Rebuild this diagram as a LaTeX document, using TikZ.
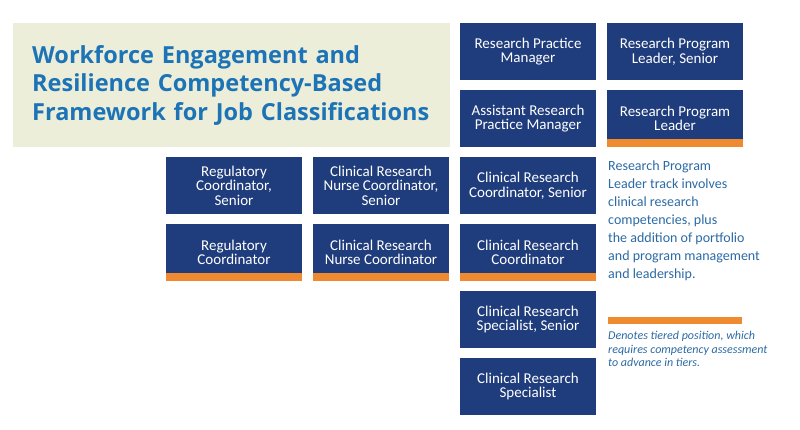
\documentclass[tikz,border=0pt]{standalone}
\usepackage{fontspec}
\setmainfont{Carlito}
\newfontfamily\titlefont{Open Sans}
\usetikzlibrary{positioning}
\definecolor{jobnavy}{HTML}{1F3C7C}
\definecolor{tierorange}{HTML}{EF8A30}
\definecolor{titleblue}{HTML}{1C74B6}
\definecolor{noteblue}{HTML}{2B6AA3}
\definecolor{titlebeige}{HTML}{ECEEDA}

\begin{document}
\begin{tikzpicture} [x=1pt, y=-1pt, node distance = 67pt and 147pt, on grid,
    job/.style={fill=jobnavy, text=white, minimum width=136pt, minimum height=57pt,
        inner sep=0pt, align=center, font=\fontsize{15}{14.5}\selectfont},
    tiered/.style={job, path picture={\fill[tierorange] (path picture bounding box.south west)
        rectangle ([yshift=8pt]path picture bounding box.south east);}}]
    \useasboundingbox (0,0) rectangle (800,429);

    % title
    \node (title) [fill=titlebeige, anchor=north west, minimum width=437pt, minimum height=124pt,
        text width=399pt, inner xsep=19pt, align=left, text=titleblue,
        font=\titlefont\bfseries\fontsize{23.5}{28.5}\selectfont] at (13,23)
        {Workforce Engagement and\\Resilience Competency-Based\\Framework for Job Classifications};

    % job classifications
    \node (rpm) [job] at (528,51.5) {Research Practice\\Manager};
    \node (rpls) [job, right = of rpm] {Research Program\\Leader, Senior};
    \node (arpm) [job, below = of rpm] {Assistant Research\\Practice Manager};
    \node (rpl) [tiered, below = of rpls] {Research Program\\Leader};
    \node (crcs) [job, below = of arpm] {Clinical Research\\Coordinator, Senior};
    \node (crncs) [job, left = of crcs] {Clinical Research\\Nurse Coordinator,\\Senior};
    \node (rcs) [job, left = of crncs] {Regulatory\\Coordinator,\\Senior};
    \node (crc) [tiered, below = of crcs] {Clinical Research\\Coordinator};
    \node (crnc) [tiered, below = of crncs] {Clinical Research\\Nurse Coordinator};
    \node (rc) [tiered, below = of rcs] {Regulatory\\Coordinator};
    \node (crss) [job, below = of crc] {Clinical Research\\Specialist, Senior};
    \node (crs) [job, below = of crss] {Clinical Research\\Specialist};

    % notes
    \node (track) [anchor=north west, inner sep=0pt, align=left, text=noteblue,
        font=\fontsize{14}{18}\selectfont] at (608,161)
        {Research Program\\Leader track involves\\clinical research\\competencies, plus\\the addition of portfolio\\and program management\\and leadership.};
    \node (tierbar) [fill=tierorange, anchor=north west, inner sep=0pt,
        minimum width=134pt, minimum height=7pt] at (608,317) {};
    \node (tiernote) [anchor=north west, inner sep=0pt, align=left, text=noteblue,
        font=\itshape\fontsize{12}{13.5}\selectfont] at (608,331)
        {Denotes tiered position, which\\requires competency assessment\\to advance in tiers.};
\end{tikzpicture}
\end{document}
